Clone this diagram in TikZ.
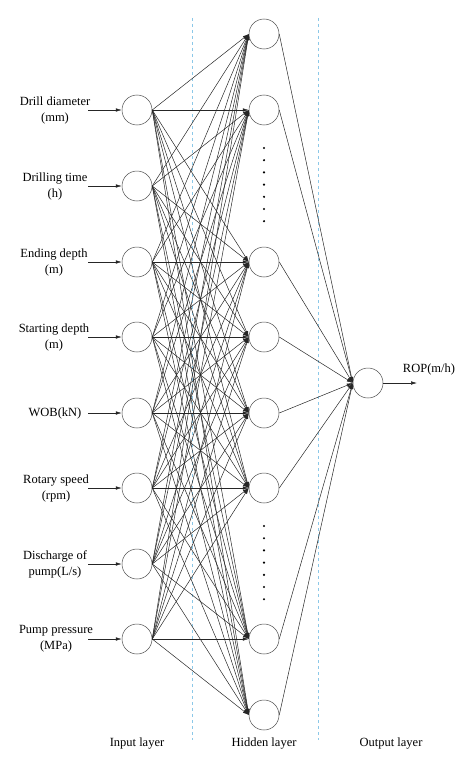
\documentclass[tikz,border=0pt]{standalone}
\usepackage{fontspec}
\setmainfont{Liberation Serif}
\usetikzlibrary{arrows.meta}

\begin{document}
\begin{tikzpicture}[x=1pt,y=-1pt]
  \tikzset{neuron/.style = {shape=circle,draw=black!70,line width=0.5pt,minimum size=30pt,inner sep=0pt}}
  \tikzset{link/.style = {-{Latex[length=6pt,width=3.6pt]},draw=black!85,line width=0.5pt}}
  \tikzset{layerline/.style = {dashed,draw={rgb,255:red,140;green,200;blue,232},line width=0.6pt}}
  \tikzset{feature/.style = {align=center,font=\fontsize{12.5}{16}\selectfont}}
  \useasboundingbox (0,0) rectangle (474,768);

	% layer separators
	\draw[layerline] (192,18) -- (192,740);
	\draw[layerline] (318,18) -- (318,740);

	% input layer
	\node[neuron] (i1) at (137,110) {};
	\node[neuron] (i2) at (137,186) {};
	\node[neuron] (i3) at (137,262) {};
	\node[neuron] (i4) at (137,337) {};
	\node[neuron] (i5) at (137,413) {};
	\node[neuron] (i6) at (137,488) {};
	\node[neuron] (i7) at (137,564) {};
	\node[neuron] (i8) at (137,639) {};

	\node[feature] (f1) at (55,110) {Drill diameter\\(mm)};
	\node[feature] (f2) at (55,186) {Drilling time\\(h)};
	\node[feature] (f3) at (54,262) {Ending depth\\(m)};
	\node[feature] (f4) at (54,337) {Starting depth\\(m)};
	\node[feature] (f5) at (55,413) {WOB(kN)};
	\node[feature] (f6) at (56,488) {Rotary speed\\(rpm)};
	\node[feature] (f7) at (55,564) {Discharge of\\pump(L/s)};
	\node[feature] (f8) at (56,639) {Pump pressure\\(MPa)};

	\foreach \k/\y in {1/110,2/186,3/262,4/337,5/413,6/488,7/564,8/639}
		\coordinate (a\k) at (88,\y);
	\foreach \k in {1,...,8}
		\draw[link] (a\k) -- (i\k);

	% hidden layer
	\node[neuron] (h1) at (264,34) {};
	\node[neuron] (h2) at (264,110) {};
	\node[neuron] (h3) at (264,262) {};
	\node[neuron] (h4) at (264,337) {};
	\node[neuron] (h5) at (264,413) {};
	\node[neuron] (h6) at (264,488) {};
	\node[neuron] (h7) at (264,639) {};
	\node[neuron] (h8) at (264,715) {};

	\foreach \y in {0,...,6} {
		\fill (264,148+12.2*\y) circle (1.2pt);
		\fill (264,526+12.2*\y) circle (1.2pt);
	}

	% output layer
	\node[neuron] (o) at (368,383) {};
	\coordinate (rop) at (417,383);
	\draw[link] (o) -- (rop);
	\node[feature] (out) at (429,369) {ROP(m/h)};

	% connections
	\foreach \i in {1,...,8}
		\foreach \j in {1,...,8}
			\draw[link] (i\i.east) -- (h\j.west);
	\foreach \j in {1,...,8}
		\draw[link] (h\j.east) -- (o.west);

	% layer names
	\node[feature] (l1) at (137,744) {Input layer};
	\node[feature] (l2) at (264,744) {Hidden layer};
	\node[feature] (l3) at (391,744) {Output layer};

\end{tikzpicture}
\end{document}
